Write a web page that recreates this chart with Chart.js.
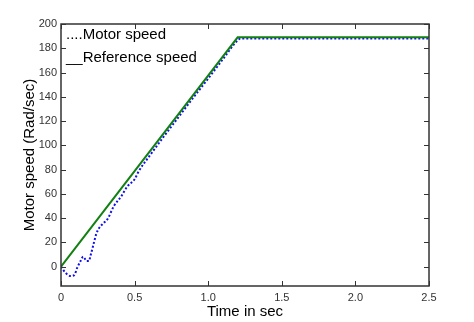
<!DOCTYPE html>
<html>
<head>
<meta charset="utf-8">
<script src="https://cdn.jsdelivr.net/npm/chart.js@4"></script>
<style>
  html, body { margin: 0; padding: 0; background: #fff; }
  #wrap { width: 474px; height: 322px; }
</style>
</head>
<body>
<div id="wrap"><canvas id="myChart" width="474" height="322"></canvas></div>
<script>
// datos
const tiempoRef = [0, 1.2, 2.5]
const velRef = [0, 189, 189]

const tiempoMotor = [0, 0.03, 0.065, 0.09, 0.11, 0.133, 0.151, 0.174, 0.19, 0.2, 0.22, 0.24, 0.26, 0.29, 0.315, 0.36, 0.41, 0.45, 0.5, 0.53, 0.6, 0.7, 0.8, 0.9, 1.0, 1.1, 1.2, 1.22, 1.5, 2.0, 2.5]
const velMotor = [0, -5, -7.7, -7, -1, 4.6, 8.2, 4.6, 4.6, 8.7, 18, 27, 32, 36, 39, 50, 58, 66, 72, 79, 91, 107.5, 123.5, 139.5, 155, 171, 186.5, 188, 188, 188, 188]

const xTicks = [0, 0.5, 1, 1.5, 2, 2.5]
const yTicks = [0, 20, 40, 60, 80, 100, 120, 140, 160, 180, 200]

const leyenda = ['....Motor speed', '__Reference speed']

var myChart

function puntos(xs, ys) {
    return xs.map((x, i) => ({ x: x, y: ys[i] }))
}

// marco y marcas hacia adentro, estilo matlab
const marcoPlugin = {
    id: 'marco',
    afterDraw(chart) {
        const ctx = chart.ctx
        const a = chart.chartArea
        const sx = chart.scales.x
        const sy = chart.scales.y
        ctx.save()
        ctx.strokeStyle = '#333'
        ctx.lineWidth = 1.5
        ctx.strokeRect(a.left, a.top, a.right - a.left, a.bottom - a.top)
        ctx.lineWidth = 1
        ctx.beginPath()
        xTicks.forEach(v => {
            const px = Math.round(sx.getPixelForValue(v)) + 0.5
            ctx.moveTo(px, a.bottom); ctx.lineTo(px, a.bottom - 5)
            ctx.moveTo(px, a.top); ctx.lineTo(px, a.top + 5)
        })
        yTicks.forEach(v => {
            const py = Math.round(sy.getPixelForValue(v)) + 0.5
            ctx.moveTo(a.left, py); ctx.lineTo(a.left + 5, py)
            ctx.moveTo(a.right, py); ctx.lineTo(a.right - 5, py)
        })
        ctx.stroke()
        // texto de leyenda
        ctx.fillStyle = '#000'
        ctx.font = '15px "Liberation Sans", Arial, sans-serif'
        ctx.textBaseline = 'middle'
        ctx.fillText(leyenda[0], a.left + 5, a.top + 11)
        ctx.fillText(leyenda[1], a.left + 5, a.top + 34)
        ctx.restore()
    }
}

function generar_grafico() {
    const data = {
        datasets: [{
            label: 'Reference speed',
            data: puntos(tiempoRef, velRef),
            borderColor: '#138013',
            borderWidth: 2,
            pointRadius: 0,
            tension: 0
        }, {
            label: 'Motor speed',
            data: puntos(tiempoMotor, velMotor),
            borderColor: '#1010ee',
            borderWidth: 2,
            borderDash: [2, 2],
            pointRadius: 0,
            cubicInterpolationMode: 'monotone'
        }]
    }
    const fuenteTicks = { family: '"Liberation Sans", Arial', size: 11 }
    const fuenteTitulo = { family: '"Liberation Sans", Arial', size: 15 }
    const config = {
        type: 'line',
        data: data,
        options: {
            responsive: false,
            animation: false,
            layout: { padding: { top: 24, right: 45, left: 21, bottom: 0 } },
            plugins: { legend: { display: false }, tooltip: { enabled: false } },
            scales: {
                x: {
                    type: 'linear',
                    min: 0, max: 2.5,
                    afterBuildTicks: s => { s.ticks = xTicks.map(v => ({ value: v })) },
                    afterFit: s => { s.height = 36 },
                    grid: { display: false, drawTicks: false },
                    border: { display: false },
                    ticks: { color: '#333', font: fuenteTicks, padding: 5, maxRotation: 0 },
                    title: { display: true, text: 'Time in sec', color: '#000', font: fuenteTitulo, padding: { top: 0, bottom: 1 } }
                },
                y: {
                    min: -16, max: 200,
                    afterBuildTicks: s => { s.ticks = yTicks.map(v => ({ value: v })) },
                    afterFit: s => { s.width = 40 },
                    grid: { display: false, drawTicks: false },
                    border: { display: false },
                    ticks: { color: '#333', font: fuenteTicks, padding: 4 },
                    title: { display: true, text: 'Motor speed (Rad/sec)', color: '#000', font: fuenteTitulo, padding: { top: 0, bottom: 0 } }
                }
            }
        },
        plugins: [marcoPlugin]
    }
    myChart = new Chart(document.getElementById('myChart'), config)
}

generar_grafico()
</script>
</body>
</html>
